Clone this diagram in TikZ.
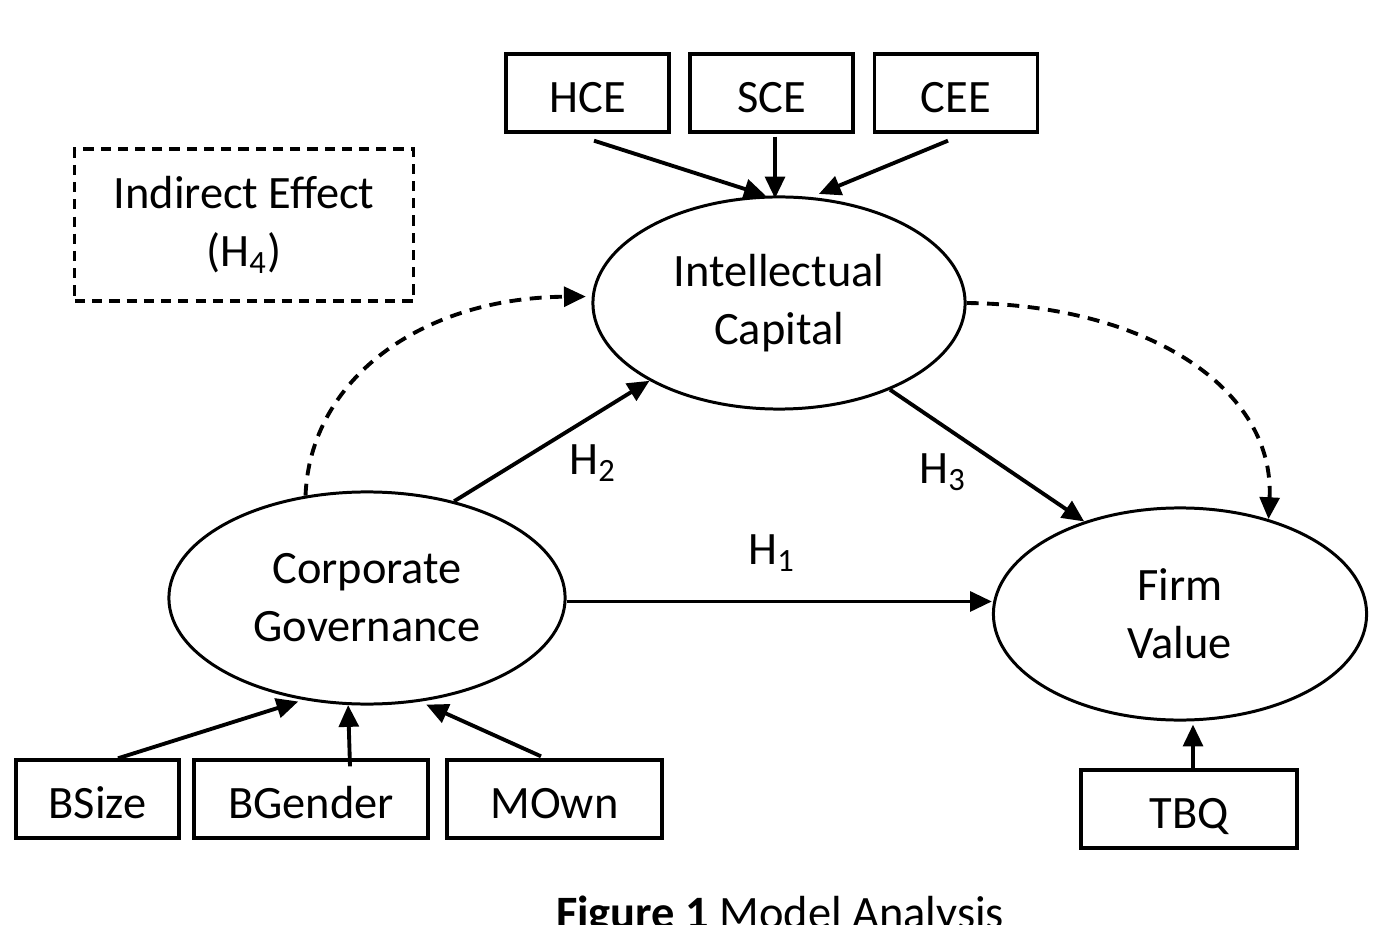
\documentclass[tikz,border=0pt]{standalone}
\usepackage{fontspec}
\setmainfont{Carlito}
\usetikzlibrary{shapes.geometric,arrows.meta}
\begin{document}
\begin{tikzpicture}[x=0.01cm,y=-0.01cm,
  every node/.style={font=\fontsize{13.2}{16.5}\selectfont},
  box/.style={draw,line width=0.95pt,minimum width=1.63cm,minimum height=0.78cm,inner sep=0,text height=11.2pt,text depth=0pt},
  dbox/.style={draw,line width=0.9pt,dash pattern=on 2.9pt off 2pt,minimum width=3.38cm,minimum height=1.52cm,inner sep=0,align=center},
  ell/.style={draw,ellipse,line width=0.85pt,minimum width=3.72cm,minimum height=2.12cm,inner sep=0,align=center},
  arr/.style={line width=1.1pt,-{Triangle[length=6.2pt,width=5.6pt]}},
  darr/.style={arr,dash pattern=on 3.4pt off 2.4pt}
]
\useasboundingbox (0,0) rectangle (1392,925);

% indicator boxes
\node[box] (hce) at (587.5,93) {HCE};
\node[box] (sce) at (771.5,93) {SCE};
\node[box] (cee) at (956,93) {CEE};
\node[box] (bsize) at (97.5,799) {BSize};
\node[box,minimum width=2.34cm] (bgender) at (311,799) {BGender};
\node[box,minimum width=2.15cm] (mown) at (554.5,799) {MOwn};
\node[box,minimum width=2.16cm] (tbq) at (1189,809) {TBQ};

% legend box
\node[dbox] (ind) at (244,225) {Indirect Effect\\(H\textsubscript{4})};

% constructs
\node[ell] (ic) at (779,303) {Intellectual\\Capital};
\node[ell,minimum width=3.96cm] (cg) at (367,598) {Corporate\\Governance};
\node[ell,minimum width=3.73cm] (fv) at (1180,614) {Firm\\Value};

% indicators to IC
\draw[arr] ([shift={(6.5,7)}]hce.south) -- (ic.97.7);
\draw[arr] ([shift={(3.5,3)}]sce.south) -- ([shift={(3.5,3)}]sce.south |- ic.north);
\draw[arr,shorten >=2.3pt] ([shift={(-8,7)}]cee.south) -- (ic.73.7);

% indicators to CG
\draw[arr,shorten >=1.5pt] ([shift={(20.5,0)}]bsize.north) -- (cg.238.7);
\draw[arr] ([shift={(39,8)}]bgender.north) -- (cg.260);
\draw[arr,shorten >=2pt] ([shift={(-13.5,-2)}]mown.north) -- (cg.297.6);

% TBQ to FV
\draw[arr] ([shift={(4,3)}]tbq.north) -- ([shift={(4,3)}]tbq.north |- fv.south);

% hypotheses
\draw[arr] (cg.48.9) -- (ic.211.7);
\draw[arr] (ic.322) -- (fv.136.3);
\draw[arr] (cg.-1.7) -- (cg.-1.7 -| fv.west);
\node (h1) at (772,553) {H\textsubscript{1}};
\node (h2) at (593,463) {H\textsubscript{2}};
\node (h3) at (943,472) {H\textsubscript{3}};

% indirect (dashed)
\draw[darr,shorten >=1.7pt] (cg.121.5) .. controls (310,380) and (420,298) .. (ic.178);
\draw[darr] (ic.0) .. controls (1150,305) and (1275,390) .. (fv.47.7);

% caption
\node[anchor=base] (cap) at (780,928) {\textbf{Figure 1} Model Analysis};
\end{tikzpicture}
\end{document}
